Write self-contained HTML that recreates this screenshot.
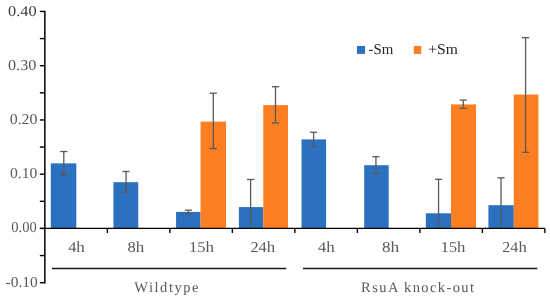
<!DOCTYPE html><html><head><meta charset="utf-8"><style>html,body{margin:0;padding:0;background:#fff;}svg{display:block;}text{font-family:"Liberation Serif",serif;text-rendering:geometricPrecision;}</style></head><body>
<svg width="550" height="299" viewBox="0 0 550 299">
<rect x="50.80" y="163.35" width="25.55" height="65.10" fill="#2B71BF"/>
<rect x="113.45" y="182.20" width="24.80" height="46.25" fill="#2B71BF"/>
<rect x="176.07" y="211.90" width="24.48" height="16.55" fill="#2B71BF"/>
<rect x="200.55" y="121.60" width="25.45" height="106.85" fill="#FE7F22"/>
<rect x="238.90" y="207.10" width="24.37" height="21.35" fill="#2B71BF"/>
<rect x="263.27" y="105.10" width="24.73" height="123.35" fill="#FE7F22"/>
<rect x="301.53" y="139.40" width="24.57" height="89.05" fill="#2B71BF"/>
<rect x="364.20" y="165.20" width="24.50" height="63.25" fill="#2B71BF"/>
<rect x="425.80" y="213.30" width="25.20" height="15.15" fill="#2B71BF"/>
<rect x="451.00" y="104.40" width="25.00" height="124.05" fill="#FE7F22"/>
<rect x="488.40" y="205.20" width="25.40" height="23.25" fill="#2B71BF"/>
<rect x="513.80" y="94.55" width="24.60" height="133.90" fill="#FE7F22"/>
<line x1="63.80" y1="151.50" x2="63.80" y2="175.20" stroke="#595959" stroke-width="1.3"/>
<line x1="60.20" y1="151.50" x2="67.40" y2="151.50" stroke="#595959" stroke-width="1.3"/>
<line x1="60.20" y1="175.20" x2="67.40" y2="175.20" stroke="#595959" stroke-width="1.3"/>
<line x1="126.05" y1="171.50" x2="126.05" y2="192.10" stroke="#595959" stroke-width="1.3"/>
<line x1="122.45" y1="171.50" x2="129.65" y2="171.50" stroke="#595959" stroke-width="1.3"/>
<line x1="122.45" y1="192.10" x2="129.65" y2="192.10" stroke="#595959" stroke-width="1.3"/>
<line x1="188.40" y1="210.20" x2="188.40" y2="214.00" stroke="#595959" stroke-width="1.3"/>
<line x1="184.80" y1="210.20" x2="192.00" y2="210.20" stroke="#595959" stroke-width="1.3"/>
<line x1="184.80" y1="214.00" x2="192.00" y2="214.00" stroke="#595959" stroke-width="1.3"/>
<line x1="213.30" y1="93.20" x2="213.30" y2="148.55" stroke="#595959" stroke-width="1.3"/>
<line x1="209.70" y1="93.20" x2="216.90" y2="93.20" stroke="#595959" stroke-width="1.3"/>
<line x1="209.70" y1="148.55" x2="216.90" y2="148.55" stroke="#595959" stroke-width="1.3"/>
<line x1="250.60" y1="179.50" x2="250.60" y2="228.45" stroke="#595959" stroke-width="1.3"/>
<line x1="247.00" y1="179.50" x2="254.20" y2="179.50" stroke="#595959" stroke-width="1.3"/>
<line x1="275.50" y1="86.70" x2="275.50" y2="123.00" stroke="#595959" stroke-width="1.3"/>
<line x1="271.90" y1="86.70" x2="279.10" y2="86.70" stroke="#595959" stroke-width="1.3"/>
<line x1="271.90" y1="123.00" x2="279.10" y2="123.00" stroke="#595959" stroke-width="1.3"/>
<line x1="313.60" y1="132.30" x2="313.60" y2="146.60" stroke="#595959" stroke-width="1.3"/>
<line x1="310.00" y1="132.30" x2="317.20" y2="132.30" stroke="#595959" stroke-width="1.3"/>
<line x1="310.00" y1="146.60" x2="317.20" y2="146.60" stroke="#595959" stroke-width="1.3"/>
<line x1="375.95" y1="156.70" x2="375.95" y2="173.70" stroke="#595959" stroke-width="1.3"/>
<line x1="372.35" y1="156.70" x2="379.55" y2="156.70" stroke="#595959" stroke-width="1.3"/>
<line x1="372.35" y1="173.70" x2="379.55" y2="173.70" stroke="#595959" stroke-width="1.3"/>
<line x1="438.55" y1="179.30" x2="438.55" y2="228.45" stroke="#595959" stroke-width="1.3"/>
<line x1="434.95" y1="179.30" x2="442.15" y2="179.30" stroke="#595959" stroke-width="1.3"/>
<line x1="463.25" y1="100.10" x2="463.25" y2="108.30" stroke="#595959" stroke-width="1.3"/>
<line x1="459.65" y1="100.10" x2="466.85" y2="100.10" stroke="#595959" stroke-width="1.3"/>
<line x1="459.65" y1="108.30" x2="466.85" y2="108.30" stroke="#595959" stroke-width="1.3"/>
<line x1="501.00" y1="177.85" x2="501.00" y2="228.45" stroke="#595959" stroke-width="1.3"/>
<line x1="497.40" y1="177.85" x2="504.60" y2="177.85" stroke="#595959" stroke-width="1.3"/>
<line x1="525.60" y1="37.65" x2="525.60" y2="152.30" stroke="#595959" stroke-width="1.3"/>
<line x1="522.00" y1="37.65" x2="529.20" y2="37.65" stroke="#595959" stroke-width="1.3"/>
<line x1="522.00" y1="152.30" x2="529.20" y2="152.30" stroke="#595959" stroke-width="1.3"/>
<line x1="44.85" y1="10.85" x2="44.85" y2="283.4" stroke="#000000" stroke-width="1.5"/>
<line x1="39.85" y1="11.45" x2="44.85" y2="11.45" stroke="#000000" stroke-width="1.4"/>
<line x1="39.85" y1="38.58" x2="44.85" y2="38.58" stroke="#000000" stroke-width="1.4"/>
<line x1="39.85" y1="65.70" x2="44.85" y2="65.70" stroke="#000000" stroke-width="1.4"/>
<line x1="39.85" y1="92.83" x2="44.85" y2="92.83" stroke="#000000" stroke-width="1.4"/>
<line x1="39.85" y1="119.95" x2="44.85" y2="119.95" stroke="#000000" stroke-width="1.4"/>
<line x1="39.85" y1="147.07" x2="44.85" y2="147.07" stroke="#000000" stroke-width="1.4"/>
<line x1="39.85" y1="174.20" x2="44.85" y2="174.20" stroke="#000000" stroke-width="1.4"/>
<line x1="39.85" y1="201.32" x2="44.85" y2="201.32" stroke="#000000" stroke-width="1.4"/>
<line x1="39.85" y1="228.45" x2="44.85" y2="228.45" stroke="#000000" stroke-width="1.4"/>
<line x1="39.85" y1="255.57" x2="44.85" y2="255.57" stroke="#000000" stroke-width="1.4"/>
<line x1="39.85" y1="282.70" x2="44.85" y2="282.70" stroke="#000000" stroke-width="1.4"/>
<line x1="39.85" y1="228.45" x2="544.85" y2="228.45" stroke="#000000" stroke-width="1.2"/>
<line x1="107.35" y1="228.45" x2="107.35" y2="232.95" stroke="#000000" stroke-width="1.4"/>
<line x1="169.85" y1="228.45" x2="169.85" y2="232.95" stroke="#000000" stroke-width="1.4"/>
<line x1="232.35" y1="228.45" x2="232.35" y2="232.95" stroke="#000000" stroke-width="1.4"/>
<line x1="294.85" y1="228.45" x2="294.85" y2="232.95" stroke="#000000" stroke-width="1.4"/>
<line x1="357.35" y1="228.45" x2="357.35" y2="232.95" stroke="#000000" stroke-width="1.4"/>
<line x1="419.85" y1="228.45" x2="419.85" y2="232.95" stroke="#000000" stroke-width="1.4"/>
<line x1="482.35" y1="228.45" x2="482.35" y2="232.95" stroke="#000000" stroke-width="1.4"/>
<line x1="544.85" y1="228.45" x2="544.85" y2="232.95" stroke="#000000" stroke-width="1.4"/>
<line x1="52" y1="268.4" x2="286.2" y2="268.4" stroke="#1a1a1a" stroke-width="1.5"/>
<line x1="302.9" y1="268.4" x2="537.3" y2="268.4" stroke="#1a1a1a" stroke-width="1.5"/>
<rect x="356.95" y="46.0" width="8.1" height="7.9" fill="#2B71BF"/>
<rect x="413.8" y="46.0" width="7.4" height="7.9" fill="#FE7F22"/>
<text x="7.98" y="16.00" font-size="15.00" textLength="28.62" lengthAdjust="spacingAndGlyphs" fill="#3a3a3a">0.40</text>
<text x="7.99" y="70.00" font-size="15.00" textLength="28.49" lengthAdjust="spacingAndGlyphs" fill="#595959">0.30</text>
<text x="9.68" y="124.00" font-size="15.00" textLength="27.85" lengthAdjust="spacingAndGlyphs" fill="#595959">0.20</text>
<text x="9.98" y="178.00" font-size="15.00" textLength="27.37" lengthAdjust="spacingAndGlyphs" fill="#595959">0.10</text>
<text x="11.28" y="232.00" font-size="15.00" textLength="25.44" lengthAdjust="spacingAndGlyphs" fill="#595959">0.00</text>
<text x="5.55" y="287.00" font-size="15.00" textLength="32.21" lengthAdjust="spacingAndGlyphs" fill="#595959">-0.10</text>
<text x="68.18" y="252.00" font-size="15.00" textLength="16.61" lengthAdjust="spacingAndGlyphs" fill="#595959">4<tspan font-size="15.5">h</tspan></text>
<text x="127.49" y="252.00" font-size="15.00" textLength="16.72" lengthAdjust="spacingAndGlyphs" fill="#595959">8<tspan font-size="15.5">h</tspan></text>
<text x="188.96" y="252.00" font-size="15.00" textLength="25.01" lengthAdjust="spacingAndGlyphs" fill="#595959">15<tspan font-size="15.5">h</tspan></text>
<text x="250.41" y="252.00" font-size="15.00" textLength="24.73" lengthAdjust="spacingAndGlyphs" fill="#595959">24<tspan font-size="15.5">h</tspan></text>
<text x="318.02" y="252.00" font-size="15.00" textLength="16.78" lengthAdjust="spacingAndGlyphs" fill="#595959">4<tspan font-size="15.5">h</tspan></text>
<text x="382.09" y="252.00" font-size="15.00" textLength="17.26" lengthAdjust="spacingAndGlyphs" fill="#595959">8<tspan font-size="15.5">h</tspan></text>
<text x="440.89" y="252.00" font-size="15.00" textLength="24.60" lengthAdjust="spacingAndGlyphs" fill="#595959">15<tspan font-size="15.5">h</tspan></text>
<text x="502.34" y="252.00" font-size="15.00" textLength="24.41" lengthAdjust="spacingAndGlyphs" fill="#595959">24<tspan font-size="15.5">h</tspan></text>
<text x="134.32" y="292.00" font-size="14.50" textLength="64.15" lengthAdjust="spacing" fill="#595959">Wildtype</text>
<text x="361.12" y="292.00" font-size="14.50" textLength="112.88" lengthAdjust="spacing" fill="#595959">RsuA knock-out</text>
<text x="368.46" y="54.00" font-size="15.00" textLength="24.76" lengthAdjust="spacingAndGlyphs" fill="#262626">-Sm</text>
<text x="428.21" y="54.00" font-size="15.00" textLength="29.61" lengthAdjust="spacingAndGlyphs" fill="#262626">+Sm</text>
</svg></body></html>
